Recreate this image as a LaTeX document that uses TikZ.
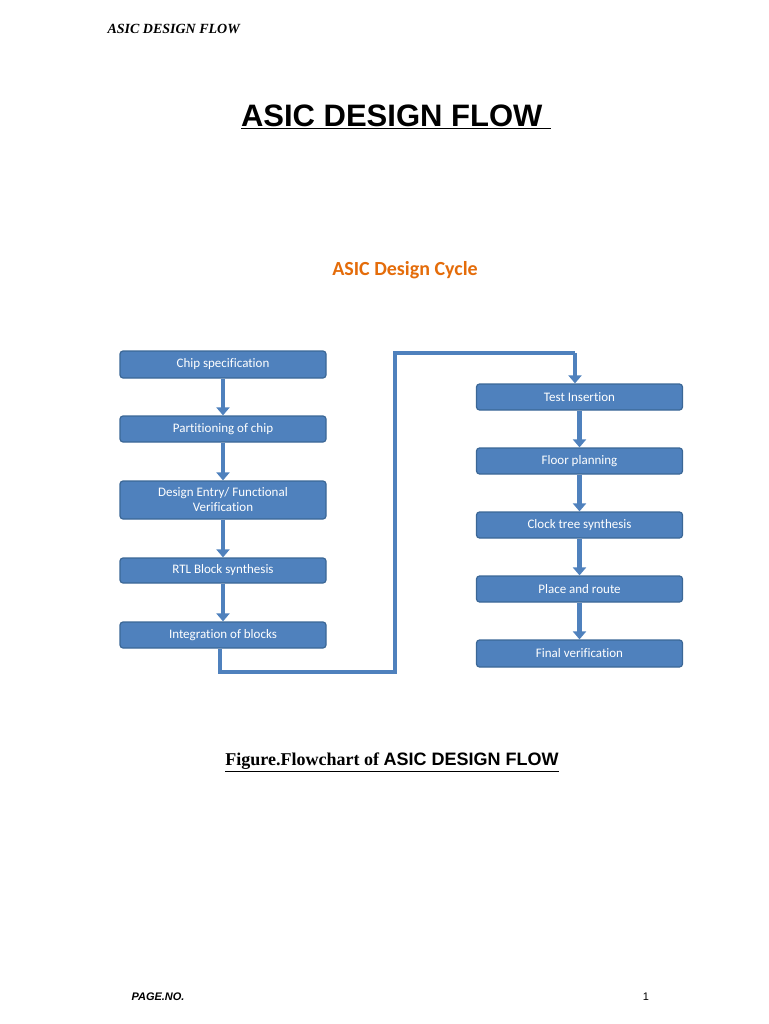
\documentclass[tikz,border=0pt]{standalone}
\usepackage{fontspec}
\setmainfont{Liberation Serif}
\newfontfamily\arial{Liberation Sans}
\newfontfamily\calfont[Ligatures=NoCommon]{Carlito}
\usetikzlibrary{arrows.meta}
\definecolor{bfill}{HTML}{4F81BD}
\definecolor{bdraw}{HTML}{3B6796}
\definecolor{ttl}{HTML}{E46C0A}
\begin{document}
\begin{tikzpicture}[x=1pt,y=-1pt,
 box/.style={draw=bdraw,line width=1.2pt,fill=bfill,rounded corners=3pt,minimum width=206pt,text=white,font=\calfont\fontsize{13}{15}\selectfont,align=center,inner sep=1pt},
 flow/.style={draw=bfill,line width=4.5pt,-{Triangle[width=13pt,length=8pt]}},
 link/.style={draw=bfill,line width=4.5pt}]
\useasboundingbox (0,0) rectangle (768,1024);
\node[font=\bfseries\itshape\fontsize{14}{16}\selectfont,anchor=west] (hdr) at (104,29) {ASIC DESIGN FLOW};
\node[font=\arial\bfseries\fontsize{31}{36}\selectfont] (title) at (396,117) {\underline{ASIC DESIGN FLOW\ }};
\node[font=\calfont\bfseries\fontsize{20}{24}\selectfont,text=ttl] (cyc) at (405,270) {ASIC Design Cycle};
\node[box,minimum height=27pt] (a1) at (223,364.5) {Chip specification};
\node[box,minimum height=26pt] (a2) at (223,429) {Partitioning of chip};
\node[box,minimum height=38pt] (a3) at (223,500) {Design Entry/ Functional\\Verification};
\node[box,minimum height=25pt] (a4) at (223,570.5) {RTL Block synthesis};
\node[box,minimum height=26pt] (a5) at (223,635) {Integration of blocks};
\node[box,minimum height=26pt] (b1) at (579.5,397) {Test Insertion};
\node[box,minimum height=26pt] (b2) at (579.5,461) {Floor planning};
\node[box,minimum height=26pt] (b3) at (579.5,525) {Clock tree synthesis};
\node[box,minimum height=26pt] (b4) at (579.5,589) {Place and route};
\node[box,minimum height=27pt] (b5) at (579.5,653.5) {Final verification};
\foreach \p/\q in {a1/a2,a2/a3,a3/a4,a4/a5,b1/b2,b2/b3,b3/b4,b4/b5}
  \draw[flow] (\p.south) -- (\q.north);
\coordinate (c1) at (220,672);
\coordinate (c2) at (395,672);
\coordinate (c3) at (395,353);
\coordinate (c4) at (575,353);
\draw[link,line join=miter] (a5.south -| c1) -- (c1) -- (c2) -- (c3) -- (c4);
\draw[flow] (c4) -- (c4 |- b1.north);
\node[font=\bfseries\fontsize{18}{21}\selectfont] (cap) at (392,762) {\underline{Figure.Flowchart of {\arial ASIC DESIGN FLOW}}};
\node[font=\arial\bfseries\itshape\fontsize{11}{13}\selectfont,anchor=west] (pg) at (128,997) {PAGE.NO.};
\node[font=\arial\fontsize{11}{13}\selectfont] (num) at (646,997) {1};
\end{tikzpicture}
\end{document}
